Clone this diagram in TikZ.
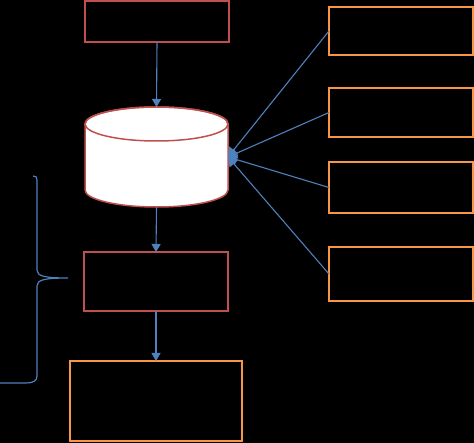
\documentclass[tikz,border=0pt]{standalone}
\usepackage{tikz}
\usetikzlibrary{shapes.geometric, arrows.meta, positioning}
\definecolor{boxred}{HTML}{C0504D}
\definecolor{boxorange}{HTML}{F79646}
\definecolor{linkblue}{HTML}{4F81BD}

\begin{document}
\begin{tikzpicture}[
  x=1pt, y=-1pt,
  stage/.style={draw=boxred, line width=1.5pt, minimum width=144pt, inner sep=0pt, outer sep=0pt},
  source/.style={draw=boxorange, line width=1.5pt, minimum width=144pt, inner sep=0pt, outer sep=0pt},
  store/.style={minimum width=143pt, minimum height=100pt, inner sep=0pt, outer sep=0pt},
  flow/.style={draw=linkblue, line width=1.1pt, -{Triangle[width=9pt,length=8pt]}},
]
\fill[black] (0,0) rectangle (474,443);
\useasboundingbox (0,0) rectangle (474,443);

% the store (cylinder)
\filldraw[fill=white, draw=boxred, line width=1.5pt]
  (85,124) -- (85,190) arc[start angle=180, end angle=0, x radius=71.5, y radius=17]
  -- (228,124) arc[start angle=0, end angle=-180, x radius=71.5, y radius=17] -- cycle;
\draw[boxred, line width=1.5pt] (156.5,124) ellipse[x radius=71.5, y radius=17];
\node[store] (db) at (156.5,157) {};

\node[stage, minimum height=41pt] (input) at (157,21.5) {};
\node[stage, minimum height=59pt] (proc) at (156,281.5) {};
\node[source, minimum width=172pt, minimum height=80pt] (out) at (156,401) {};

\node[source, minimum height=48pt] (src1) at (401,31) {};
\node[source, minimum height=49pt] (src2) at (401,112.5) {};
\node[source, minimum height=51pt] (src3) at (401,187.5) {};
\node[source, minimum height=54pt] (src4) at (401,274) {};

% vertical flow
\draw[flow] (input.south) -- (db.north);
\draw[flow] (db.south) -- (proc.north);
\draw[flow] (proc.south) -- (out.north);

% inputs into the store
\foreach \s in {src1,src2,src3,src4}
  \draw[flow, -{Triangle[width=11pt,length=9pt]}] (\s.west) -- (db.east);

% brace on the left
\coordinate (tip) at (68,278);
\draw[linkblue, line width=1.2pt]
  (33,176) .. controls (36,176) and (37,177) .. (37,180) -- (37,270)
  .. controls (37,276) and (44,278) .. (tip)
  (tip) .. controls (44,278) and (37,280) .. (37,286) -- (37,376)
  .. controls (37,381) and (33,383) .. (26,383) -- (0,383);
\end{tikzpicture}
\end{document}
